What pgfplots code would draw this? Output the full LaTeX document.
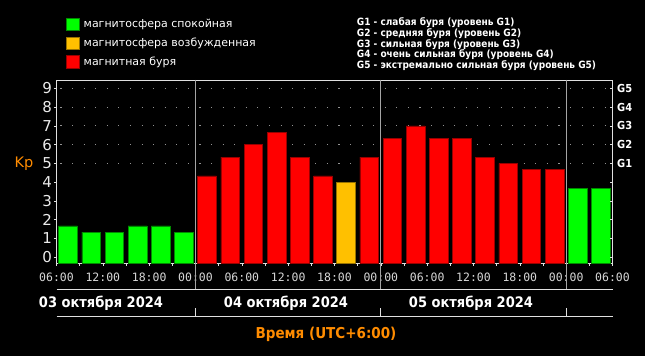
\documentclass[border=0pt]{standalone}
\usepackage{fontspec}
\setmainfont{DejaVu Sans}
\newfontfamily\cond{DejaVu Sans Condensed}
\newfontfamily\mono{DejaVu Sans Mono}
\usepackage{pgfplots}
\pgfplotsset{compat=1.18}
\definecolor{kgreen}{RGB}{0,255,0}
\definecolor{kyellow}{RGB}{255,192,0}
\definecolor{kred}{RGB}{255,0,0}
\definecolor{korange}{RGB}{255,140,0}
\definecolor{framec}{RGB}{224,224,224}
\definecolor{sepc}{RGB}{165,165,165}
\definecolor{ticktxt}{RGB}{215,215,215}
\begin{document}
\begin{tikzpicture}
\fill[black] (-56.5pt,-92.7pt) rectangle (588.5pt,263.3pt);
\path[use as bounding box] (-56.5pt,-92.7pt) rectangle (588.5pt,263.3pt);
\begin{axis}[
  at={(0pt,0pt)}, anchor=south west, scale only axis,
  width=556pt, height=183.3pt,
  xmin=6, xmax=78, ymin=0, ymax=9.776,
  clip=false,
  y filter/.expression={y+0.33},
  axis line style={draw=framec, line width=0.8pt},
  xtick={6,12,18,24,30,36,42,48,54,60,66,72,78},
  xticklabels={06:00,12:00,18:00,00:00,06:00,12:00,18:00,00:00,06:00,12:00,18:00,00:00,06:00},
  minor x tick num=1,
  xtick pos=bottom, ytick pos=left,
  tick align=outside,
  major tick length=2.5pt, minor tick length=2.5pt,
  tick style={draw=framec, line width=0.6pt},
  xticklabel style={font=\mono\fontsize{11.5}{12}\selectfont, text=ticktxt, inner sep=0pt, yshift=-6.5pt},
  ytick={0.33,1.33,2.33,3.33,4.33,5.33,6.33,7.33,8.33,9.33},
  yticklabels={0,1,2,3,4,5,6,7,8,9},
  yticklabel style={font=\fontsize{15}{16}\selectfont, text=white!92!black, inner sep=0pt, xshift=-2pt},
  extra y ticks={5.33,6.33,7.33,8.33,9.33},
  extra y tick labels={},
  extra y tick style={grid=major, major tick length=0pt},
  major grid style={draw=gray!85, line width=1.1pt, dash pattern=on 1.1pt off 10.48pt, dash phase=7.58pt},
  ylabel={Kp},
  ylabel style={rotate=-90, at={(axis description cs:-0.0585,0.5417)}, anchor=center, font=\fontsize{14.5}{16}\selectfont, text=korange},
  legend style={at={(axis description cs:0.0171,1.340)}, anchor=north west, draw=none, fill=none, inner sep=0pt, row sep=5.8pt, column sep=4.3pt, font=\fontsize{11}{13}\selectfont, text=white, nodes={inner sep=0pt, anchor=base west}},
  legend cell align=left,
  legend image code/.code={\fill[#1] (0pt,-2.8pt) rectangle (12.6pt,9.5pt);},
]
\addplot[ybar, bar width=2.42, bar shift=0pt, fill=kgreen, draw=kgreen!55!black, line width=0.6pt] coordinates {
 (7.5,1.67) (10.5,1.33) (13.5,1.33) (16.5,1.67) (19.5,1.67) (22.5,1.33) (73.5,3.67) (76.5,3.67)};
\addlegendentry{магнитосфера спокойная}
\addplot[ybar, bar width=2.42, bar shift=0pt, fill=kyellow, draw=kyellow!60!black, line width=0.6pt] coordinates {
 (43.5,4.0)};
\addlegendentry{магнитосфера возбужденная}
\addplot[ybar, bar width=2.42, bar shift=0pt, fill=kred, draw=kred!60!black, line width=0.6pt] coordinates {
 (25.5,4.33) (28.5,5.33) (31.5,6.0) (34.5,6.67) (37.5,5.33) (40.5,4.33) (46.5,5.33)
 (49.5,6.33) (52.5,7.0) (55.5,6.33) (58.5,6.33) (61.5,5.33) (64.5,5.0) (67.5,4.67) (70.5,4.67)};
\addlegendentry{магнитная буря}
\foreach \h in {24,48,72} {
  \edef\tmp{\noexpand\draw[sepc, line width=1.3pt] (axis cs:\h,9.776) -- (axis cs:\h,0);
  \noexpand\draw[sepc, line width=0.7pt] (axis cs:\h,0) -- ++(0pt,-26pt);
  \noexpand\draw[framec, line width=0.8pt] ([yshift=-52.7pt]axis cs:\h,0) -- ++(0pt,8pt);}
  \tmp
}
\end{axis}
\begin{axis}[
  at={(0pt,0pt)}, anchor=south west, scale only axis,
  width=556pt, height=183.3pt,
  xmin=6, xmax=78, ymin=0, ymax=9.776,
  axis x line=none, axis y line*=right,
  y axis line style={-, draw=framec, line width=0.8pt},
  ytick={0.33,1.33,2.33,3.33,4.33,5.33,6.33,7.33,8.33,9.33},
  yticklabels={,,,,,G1,G2,G3,G4,G5},
  tick align=inside, major tick length=2.5pt,
  tick style={draw=framec, line width=0.6pt},
  yticklabel style={font=\cond\bfseries\fontsize{11}{12}\selectfont, text=white, inner sep=0pt, xshift=4.5pt},
]
\end{axis}
\draw[framec, line width=0.8pt] (0pt,-26pt) -- (556pt,-26pt);
\draw[framec, line width=0.8pt] (0pt,-52.7pt) -- (556pt,-52.7pt);
\node[anchor=base, font=\cond\bfseries\fontsize{14.5}{16}\selectfont, text=white] at (44.5pt,-44.4pt) {03 октября 2024};
\node[anchor=base, font=\cond\bfseries\fontsize{14.5}{16}\selectfont, text=white] at (229.5pt,-44.4pt) {04 октября 2024};
\node[anchor=base, font=\cond\bfseries\fontsize{14.5}{16}\selectfont, text=white] at (414.5pt,-44.4pt) {05 октября 2024};
\node[anchor=base, font=\cond\bfseries\fontsize{15}{16}\selectfont, text=korange] at (269.5pt,-75pt) {Время (UTC+6:00)};
\begin{scope}[every node/.style={anchor=base west, inner sep=0pt, font=\cond\bfseries\fontsize{10}{11}\selectfont, text=white}]
\node at (300.2pt,237.3pt) {G1 - слабая буря (уровень G1)};
\node at (300.2pt,226.7pt) {G2 - средняя буря (уровень G2)};
\node at (300.2pt,216.1pt) {G3 - сильная буря (уровень G3)};
\node at (300.2pt,205.5pt) {G4 - очень сильная буря (уровень G4)};
\node at (300.2pt,194.9pt) {G5 - экстремально сильная буря (уровень G5)};
\end{scope}
\end{tikzpicture}
\end{document}
